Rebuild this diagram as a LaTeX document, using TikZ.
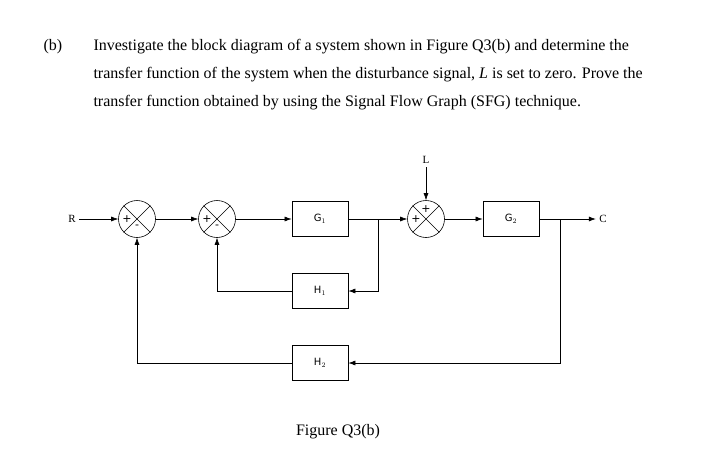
\documentclass[tikz,border=0pt]{standalone}
\usepackage{fontspec}
\setmainfont{Liberation Serif}
\newfontfamily\blockfont{DejaVu Sans}
\usetikzlibrary{positioning,arrows.meta}
\begin{document}
\begin{tikzpicture}[x=1pt,y=-1pt]
\tikzstyle{every node}=[font=\fontsize{16}{18}\selectfont]
\tikzset{
  blk/.style={draw,thick,minimum width=56pt,minimum height=35pt,inner sep=0pt,font=\blockfont\fontsize{10}{10}\selectfont},
  sumj/.style={draw,semithick,circle,minimum size=37pt,inner sep=0pt},
  sgn/.style={font=\blockfont\fontsize{11}{11}\selectfont,inner sep=0pt},
  sig/.style={semithick,-{Latex[length=7pt,width=5pt]}}
}
	\useasboundingbox (0,0) rectangle (713,461);
	% question text
	\node[anchor=base west] at (40,50) {(b)};
	\node[anchor=base west] at (90,50) {Investigate the block diagram of a system shown in Figure Q3(b) and determine the};
	\node[anchor=base west] at (90,78) {transfer function of the system when the disturbance signal, \textit{L} is set to zero. Prove the};
	\node[anchor=base west] at (90,106) {transfer function obtained by using the Signal Flow Graph (SFG) technique.};

	% blocks and summing points
	\node[sumj] (s1) at (137,219) {}; \node[sumj] (s2) at (217,219) {}; \node[sumj] (s3) at (426,219) {};
	\foreach \s in {s1,s2,s3} {\draw[semithick] (\s.north west) -- (\s.south east); \draw[semithick] (\s.north east) -- (\s.south west);}
	\node[blk] (g1) at (320,219) {G$_1$};
	\node[blk] (g2) at (511,219) {G$_2$};
	\node[blk] (h1) at (320,291) {H$_1$};
	\node[blk] (h2) at (320,363) {H$_2$};

	\node[sgn] at ([xshift=-10pt]s1.center) {+}; \node[sgn] at ([yshift=-8pt]s1.center) {-};
	\node[sgn] at ([xshift=-10pt]s2.center) {+}; \node[sgn] at ([yshift=-8pt]s2.center) {-};
	\node[sgn] at ([xshift=-10pt]s3.center) {+}; \node[sgn] at ([yshift=10pt]s3.center) {+};

	% signals
	\node[font=\fontsize{11}{11}\selectfont] (r) at (72,219) {R};
	\node[font=\fontsize{11}{11}\selectfont] (c) at (603,219) {C};
	\node[font=\fontsize{11}{11}\selectfont] (l) at (426,160) {L};
	\coordinate (b1) at (378,219); \coordinate (b2) at (560,219);

	\draw[sig] (r) -- (s1);
	\draw[sig] (s1) -- (s2);
	\draw[sig] (s2) -- (g1);
	\draw[sig] (g1) -- (s3);
	\draw[sig] (l) -- (s3);
	\draw[sig] (s3) -- (g2);
	\draw[sig] (g2) -- (c);
	\draw[sig] (b1) |- (h1);
	\draw[sig] (h1) -| (s2);
	\draw[sig] (b2) |- (h2);
	\draw[sig] (h2) -| (s1);

	\node at (338,432) {Figure Q3(b)};
\end{tikzpicture}
\end{document}
